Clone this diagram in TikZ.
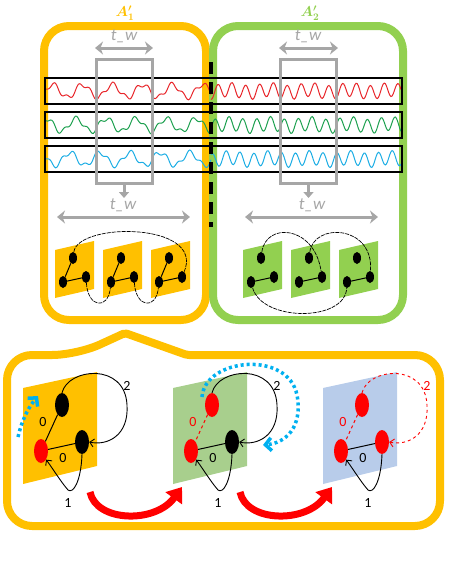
\documentclass[tikz,border=0pt]{standalone}
\usepackage{fontspec}
\setmainfont{Carlito}
\usepackage{bm}
\usetikzlibrary{arrows.meta,positioning,shapes.geometric}
\definecolor{gold}{HTML}{FFC000}
\definecolor{leaf}{HTML}{92D050}
\definecolor{wingray}{HTML}{A6A6A6}
\definecolor{sigred}{HTML}{E8262B}
\definecolor{siggreen}{HTML}{1DA04F}
\definecolor{sigblue}{HTML}{1CADE4}
\definecolor{skyblue}{HTML}{00B0F0}
\definecolor{panelgreen}{HTML}{A8CF8D}
\definecolor{panelblue}{HTML}{B8CCEA}
\definecolor{nodered}{HTML}{FF0000}

\begin{document}
\begin{tikzpicture}[x=1pt, y=-1pt,
  segbox/.style={draw, line width=8pt, rounded corners=25pt, minimum width=#1, minimum height=294pt, inner sep=0pt},
  sigrow/.style={draw=black, line width=1.2pt, minimum width=357pt, minimum height=26pt, inner sep=0pt},
  window/.style={draw=wingray, line width=3pt, minimum width=56pt, minimum height=124pt, inner sep=0pt},
  twarrow/.style={draw=wingray, line width=3pt, {Stealth[length=8pt,width=13pt,inset=2.5pt]}-{Stealth[length=8pt,width=13pt,inset=2.5pt]}},
  twlabel/.style={text=wingray, font=\fontsize{17}{17}\selectfont\itshape, inner sep=0pt},
  dot/.style={ellipse, fill=black, inner sep=0pt, minimum width=8pt, minimum height=12pt},
  gnode/.style={ellipse, inner sep=0pt, minimum width=14pt, minimum height=24pt},
  link/.style={line width=1pt},
  walk/.style={black, line width=0.7pt, dash pattern=on 4pt off 1pt},
  loopline/.style={line width=0.9pt, -{Straight Barb[length=4pt,width=8pt]}},
  num/.style={font=\fontsize{14}{14}\selectfont, inner sep=0pt},
  bluedot/.style={draw=skyblue, line width=3.5pt, dash pattern=on 3pt off 3pt, -{Straight Barb[length=6pt,width=13pt]}},
  redarrow/.style={draw=nodered, line width=7pt, -{Triangle[length=14pt,width=20pt]}}]
  \useasboundingbox (0,0) rectangle (474,562);

  % Segment boxes and their labels
  \node[segbox=162pt, draw=gold] (segA) at (125,173) {};
  \node[segbox=190pt, draw=leaf] (segB) at (308,173) {};
  \node[text=gold, font=\Large] (labA) at (125,13) {$\bm{A'_1}$};
  \node[text=leaf, font=\Large] (labB) at (310,13) {$\bm{A'_2}$};

  % Signal rows
  \foreach \yc/\col/\ph [count=\i] in {91/sigred/0, 125/siggreen/75, 159/sigblue/150} {
    \draw[\col, line width=1pt] plot[domain=46:211, samples=140, smooth]
      (\x, {\yc + 6.5*sin(12*\x+\ph) + 2.5*sin(31*\x+\ph)});
    \draw[\col, line width=1pt] plot[domain=211:401, samples=170, smooth]
      (\x, {\yc + 7*sin(26*\x+\ph) + 1.5*sin(9*\x)});
    \node[sigrow] (row\i) at (223.5,\yc) {};
  }

  % Sliding windows
  \node[window] (winA) at (124,121) {};
  \node[window] (winB) at (308.5,121) {};
  \coordinate (twAl) at (95,48);  \coordinate (twAr) at (153,48);
  \coordinate (twBl) at (279,48); \coordinate (twBr) at (338,48);
  \draw[twarrow] (twAl) -- (twAr);
  \draw[twarrow] (twBl) -- (twBr);
  \node[twlabel] (twA) at (124,36) {t\_w};
  \node[twlabel] (twB) at (308,36) {t\_w};
  \coordinate (downA) at (124,198);
  \coordinate (downB) at (308.5,198);
  \draw[draw=wingray, line width=3pt, -{Triangle[length=6pt,width=10pt]}] (winA.south) -- (downA);
  \draw[draw=wingray, line width=3pt, -{Triangle[length=6pt,width=10pt]}] (winB.south) -- (downB);

  % Window width arrows over the graph sequences
  \coordinate (spAl) at (57,217);  \coordinate (spAr) at (190,217);
  \coordinate (spBl) at (245,217); \coordinate (spBr) at (378,217);
  \draw[twarrow] (spAl) -- (spAr);
  \draw[twarrow] (spBl) -- (spBr);
  \node[twlabel] (spA) at (123,205) {t\_w};
  \node[twlabel] (spB) at (312,205) {t\_w};

  % Divider
  \coordinate (divtop) at (211,62);
  \coordinate (divbot) at (211,227);
  \draw[black, line width=4pt, dash pattern=on 12pt off 8pt] (divtop) -- (divbot);

  % Small graph panels
  \foreach \px/\nm/\pan in {55/o1/gold, 103/o2/gold, 151/o3/gold, 243/g1/leaf, 291/g2/leaf, 339/g3/leaf} {
    \fill[\pan] (\px,250) -- ++(39,-9) -- ++(0,48) -- ++(-39,9) -- cycle;
    \node[dot] (\nm-t) at ({\px+18},258) {};
    \node[dot] (\nm-l) at ({\px+8},282) {};
    \node[dot] (\nm-r) at ({\px+31},277) {};
    \draw[link] (\nm-l) -- (\nm-r);
  }
  \foreach \nm in {o1, o2, o3}
    \draw[link] (\nm-t) -- (\nm-l);
  \draw[walk] (o1-t) .. controls (78,222) and (205,222) .. (o3-r);
  \draw[walk] (o1-r) .. controls (88,308) and (108,310) .. (o2-l);
  \draw[walk] (o2-r) .. controls (136,308) and (156,310) .. (o3-l);
  \draw[walk] (g1-t) .. controls (266,222) and (314,225) .. (g2-r);
  \draw[walk] (g2-t) .. controls (314,222) and (374,225) .. (g3-r);
  \draw[walk] (g1-l) .. controls (262,322) and (345,322) .. (g3-l);

  % Zoomed callout
  \draw[gold, line width=8pt, line join=round] (300,355) [rounded corners=25pt] -- (440,355) -- (440,526)
    -- (7,526) -- (7,355) -- (77,355) [rounded corners=2pt] -- (125,333) -- (187,355) -- cycle;

  % Detailed graph panels
  \foreach \px/\pn/\pan/\tc/\rc/\es/\lc/\ls in {23/A/gold/black/black/solid/black/solid,
      173/B/panelgreen/nodered/black/dashed/black/solid,
      323/C/panelblue/nodered/nodered/dashed/nodered/dashed} {
    \fill[\pan] (\px,388) -- ++(74,-16) -- ++(0,94) -- ++(-74,18) -- cycle;
    \node[gnode, fill=\tc] (\pn-t) at ({\px+39},405) {};
    \node[gnode, fill=nodered] (\pn-l) at ({\px+18},451) {};
    \node[gnode, fill=\rc] (\pn-r) at ({\px+59},442) {};
    \draw[link, \tc, \es] (\pn-t) -- (\pn-l);
    \draw[link, black] (\pn-l) -- (\pn-r);
    \node[num, text=\tc] (\pn-zt) at ({\px+20},422) {0};
    \node[num] (\pn-zb) at ({\px+40},458) {0};
    \draw[loopline, \lc, \ls] (\pn-t.north) .. controls ({\px+45},368) and ({\px+102},362)
      .. ({\px+104},405) .. controls ({\px+106},435) and ({\px+85},446) .. (\pn-r.east);
    \node[num, text=\lc] (\pn-two) at ({\px+104},386) {2};
    \draw[loopline, black] (\pn-r.south) .. controls ({\px+58},482) and ({\px+50},494)
      .. ({\px+45},490) .. controls ({\px+38},482) and ({\px+28},466) .. (\pn-l.south east);
    \node[num] (\pn-one) at ({\px+45},503) {1};
  }

  % Propagation arrows
  \coordinate (bA0) at (18,437);  \coordinate (bA1) at (38,396);
  \draw[bluedot] (bA0) .. controls (22,420) and (28,408) .. (bA1);
  \coordinate (bB0) at (202,397); \coordinate (bB1) at (263,445);
  \draw[bluedot] (bB0) .. controls (205,358) and (288,350) .. (297,395) .. controls (303,428) and (285,443) .. (bB1);
  \coordinate (rA0) at (90,492);  \coordinate (rA1) at (182,487);
  \coordinate (rB0) at (240,492); \coordinate (rB1) at (332,487);
  \draw[redarrow] (rA0) .. controls (96,522) and (155,524) .. (rA1);
  \draw[redarrow] (rB0) .. controls (246,522) and (305,524) .. (rB1);
\end{tikzpicture}
\end{document}
